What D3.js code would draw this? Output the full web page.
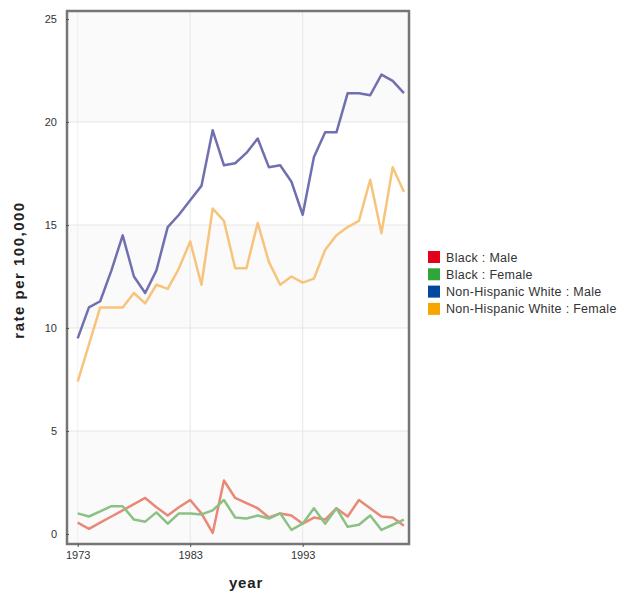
<!DOCTYPE html>
<meta charset="utf-8">
<style>
  body { margin: 0; background: #fff; }
  text { font-family: "Liberation Sans", Arial, sans-serif; }
  .tick text { fill: #333; font-size: 11px; }
  .grid line { stroke: #e6e6e6; stroke-width: 1; }
  .series { fill: none; stroke-width: 2.5; stroke-linejoin: round; }
</style>
<svg width="624" height="594"></svg>
<script src="https://cdnjs.cloudflare.com/ajax/libs/d3/7.8.5/d3.min.js"></script>
<script>
  var years = d3.range(1973, 2003);
  var blackMale = [0.55, 0.25, 0.55, 0.85, 1.15, 1.45, 1.75, 1.3, 0.9, 1.3, 1.65, 1.0, 0.05, 2.6,
    1.75, 1.5, 1.25, 0.8, 1.0, 0.9, 0.5, 0.8, 0.7, 1.25, 0.85, 1.65, 1.25, 0.85, 0.8, 0.4];
  var blackFemale = [1.0, 0.85, 1.1, 1.35, 1.35, 0.7, 0.6, 1.05, 0.5, 1.0, 1.0, 0.95, 1.15, 1.65,
    0.8, 0.75, 0.9, 0.75, 1.0, 0.2, 0.5, 1.25, 0.5, 1.25, 0.35, 0.45, 0.9, 0.2, 0.45, 0.7];
  var whiteMale = [9.5, 11.0, 11.3, 12.8, 14.5, 12.5, 11.7, 12.8, 14.9, 15.5, 16.2, 16.9, 19.6, 17.9,
    18.0, 18.5, 19.2, 17.8, 17.9, 17.1, 15.5, 18.3, 19.5, 19.5, 21.4, 21.4, 21.3, 22.3, 22.0, 21.4];
  var whiteFemale = [7.4, 9.2, 11.0, 11.0, 11.0, 11.7, 11.2, 12.1, 11.9, 12.9, 14.2, 12.1, 15.8, 15.2,
    12.9, 12.9, 15.1, 13.2, 12.1, 12.5, 12.2, 12.4, 13.8, 14.5, 14.9, 15.2, 17.2, 14.6, 17.8, 16.6];

  var seriesNames = ["Black : Male", "Black : Female", "Non-Hispanic White : Male", "Non-Hispanic White : Female"];
  var seriesValues = [blackMale, blackFemale, whiteMale, whiteFemale];
  var lineColors = ["#ea8878", "#8cc185", "#7070b0", "#f8c47c"];
  var legendColors = ["#e2001a", "#2fa63a", "#00479d", "#f7a600"];
  var xTicks = [1973, 1983, 1993];
  var yTicks = [0, 5, 10, 15, 20, 25];

  var svg = d3.select("svg");
  var plotLeft = 67, plotRight = 409, plotTop = 11, plotBottom = 544;

  var x = d3.scaleLinear().domain([1972.05, 2002.45]).range([plotLeft, plotRight]);
  var y = d3.scaleLinear().domain([-0.485, 25.39]).range([plotBottom, plotTop]);

  // very faint alternating bands
  var bands = [[20, 25.39], [10, 15], [-0.485, 5]];
  svg.selectAll(".band").data(bands).enter().append("rect")
    .attr("x", plotLeft).attr("width", plotRight - plotLeft)
    .attr("y", function(d) { return y(d[1]); })
    .attr("height", function(d) { return y(d[0]) - y(d[1]); })
    .attr("fill", "#fafafa");

  svg.append("g").attr("class", "grid")
    .selectAll("line").data(yTicks.filter(function(d) { return d > 0 && d < 25; })).enter().append("line")
    .attr("x1", plotLeft).attr("x2", plotRight)
    .attr("y1", function(d) { return y(d); }).attr("y2", function(d) { return y(d); });

  svg.append("g").attr("class", "grid")
    .selectAll("line").data(xTicks).enter().append("line")
    .attr("y1", plotTop).attr("y2", plotBottom)
    .attr("x1", function(d) { return x(d); }).attr("x2", function(d) { return x(d); })
    .attr("stroke-opacity", function(d, i) { return i === 0 ? 0.5 : 1; });

  var line = d3.line()
    .x(function(d, i) { return x(years[i]); })
    .y(function(d) { return y(d); });

  svg.selectAll(".series").data(seriesValues).enter().append("path")
    .attr("class", "series")
    .attr("stroke", function(d, i) { return lineColors[i]; })
    .attr("d", line);

  // frame
  svg.append("rect")
    .attr("x", plotLeft).attr("y", plotTop)
    .attr("width", plotRight - plotLeft).attr("height", plotBottom - plotTop)
    .attr("fill", "none").attr("stroke", "#767676").attr("stroke-width", 2.5);

  var yAxis = svg.append("g")
    .attr("transform", "translate(" + plotLeft + ",0)")
    .call(d3.axisLeft(y).tickValues(yTicks).tickSize(3).tickPadding(7));
  yAxis.select(".domain").remove();
  yAxis.selectAll(".tick line").attr("stroke", "#555").attr("transform", "translate(2,0)");

  var xAxis = svg.append("g")
    .attr("transform", "translate(0," + plotBottom + ")")
    .call(d3.axisBottom(x).tickValues(xTicks).tickFormat(d3.format("d")).tickSize(3).tickPadding(4));
  xAxis.select(".domain").remove();
  xAxis.selectAll(".tick line").attr("stroke", "#555");

  svg.append("text")
    .attr("x", 246).attr("y", 588)
    .attr("text-anchor", "middle")
    .attr("font-size", 15).attr("font-weight", "bold").attr("fill", "#222")
    .attr("letter-spacing", 0.8)
    .text("year");

  svg.append("text")
    .attr("transform", "translate(24,270) rotate(-90)")
    .attr("text-anchor", "middle")
    .attr("font-size", 15).attr("font-weight", "bold").attr("fill", "#222")
    .attr("letter-spacing", 1.5)
    .text("rate per 100,000");

  var legend = svg.append("g").attr("transform", "translate(428,251)");
  var item = legend.selectAll("g").data(seriesNames).enter().append("g")
    .attr("transform", function(d, i) { return "translate(0," + i * 17.3 + ")"; });
  item.append("rect")
    .attr("width", 12).attr("height", 12)
    .attr("fill", function(d, i) { return legendColors[i]; });
  item.append("text")
    .attr("x", 18).attr("y", 10.5)
    .attr("font-size", 12.5).attr("fill", "#333")
    .attr("letter-spacing", 0.3)
    .text(function(d) { return d; });
</script>
